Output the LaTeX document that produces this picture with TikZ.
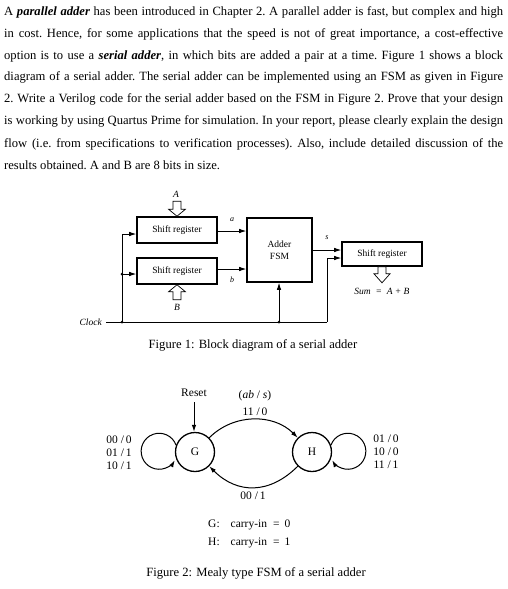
\documentclass[tikz,border=0pt]{standalone}
\usepackage{fontspec}
\setmainfont{Liberation Serif}
\usetikzlibrary{arrows.meta,calc}
\begin{document}
\begin{tikzpicture}[x=1pt,y=1pt,
  conn/.style={line width=0.8pt},
  arr/.style={conn,-{Latex[length=7pt,width=4.5pt]}},
  reg/.style={draw,line width=1.6pt,minimum width=80pt,minimum height=26pt,inner sep=0pt,font=\fontsize{9.5}{12}\selectfont},
  lbl/.style={inner sep=0pt,font=\fontsize{9.5}{11}\selectfont\itshape},
  smalllbl/.style={inner sep=0pt,font=\fontsize{8}{10}\selectfont\itshape},
  fsmstate/.style={draw,circle,line width=1.3pt,minimum size=39pt,inner sep=0pt,font=\fontsize{11.5}{13}\selectfont},
  fl/.style={inner sep=0pt,font=\fontsize{11.5}{13}\selectfont},
  hollow/.style={draw,line width=0.7pt,fill=white},
  jdot/.style={circle,fill,inner sep=0pt,minimum size=3pt},
  figcap/.style={inner sep=0pt,font=\fontsize{12.6}{15}\selectfont}]
\useasboundingbox (0,0) rectangle (508,-589);
% body text
\node[anchor=base west,inner sep=0pt] (body) at (4,-15) {\parbox[t]{499pt}{\fontsize{12.6}{22}\selectfont\frenchspacing\hyphenpenalty=10000\tolerance=9999\emergencystretch=20pt
A \textbf{\textit{parallel adder}} has been introduced in Chapter 2. A parallel adder is fast, but complex and high\linebreak
in cost. Hence, for some applications that the speed is not of great importance, a cost-effective\linebreak
option is to use a \textbf{\textit{serial adder}}, in which bits are added a pair at a time. Figure 1 shows a block\linebreak
diagram of a serial adder. The serial adder can be implemented using an FSM as given in Figure\linebreak
2. Write a Verilog code for the serial adder based on the FSM in Figure 2. Prove that your design\linebreak
is working by using Quartus Prime for simulation. In your report, please clearly explain the design\linebreak
flow (i.e. from specifications to verification processes). Also, include detailed discussion of the\linebreak
results obtained. A and B are 8 bits in size.}};
% Figure 1
\node[reg] (sr1) at (177,-230) {Shift register};
\node[reg] (sr2) at (177,-271) {Shift register};
\node[reg,minimum width=65pt,minimum height=64pt,align=center] (fsm) at (279.5,-250) {Adder\\FSM};
\node[reg,minimum height=24pt] (sr3) at (382,-254) {Shift register};
\draw[hollow] (sr1.north) -- ++(-8.5,7) -- ++(4.5,0) -- ++(0,8) -- ++(8,0) -- ++(0,-8) -- ++(4.5,0) -- cycle;
\node[lbl] (A) at (176,-194) {A};
\draw[hollow] (sr2.south) -- ++(-8.5,-7) -- ++(4.5,0) -- ++(0,-8) -- ++(8,0) -- ++(0,8) -- ++(4.5,0) -- cycle;
\node[lbl] (B) at (177,-307) {B};
\draw[hollow] ([yshift=-16pt]sr3.south) -- ++(-8,9) -- ++(4,0) -- ++(0,7) -- ++(8,0) -- ++(0,-7) -- ++(4,0) -- cycle;
\node[lbl] (sum) at (382,-291) {Sum\enspace=\enspace A + B};
\node[lbl,anchor=east] (clk) at (102,-322) {Clock};
\coordinate (c0) at (106,-322);
\coordinate (j1) at (122,-322);
\coordinate (j2) at (122,-274);
\coordinate (j3) at (279,-322);
\coordinate (c1) at (327,-322);
\coordinate (sr1clk) at ([yshift=-4pt]sr1.west);
\coordinate (sr3clk) at ([yshift=-4pt]sr3.west);
\draw[conn] (c0) -- (c1);
\draw[arr] (c1) |- (sr3clk);
\draw[arr] (j1) |- (sr1clk);
\draw[arr] (j2) -- (j2 -| sr2.west);
\draw[arr] (j3) -- (j3 |- fsm.south);
\node[jdot] at (j1) {};
\node[jdot] at (j2) {};
\node[jdot] at (j3) {};
\draw[arr] ([yshift=-1pt]sr1.east) -- ([yshift=-1pt]sr1.east -| fsm.west);
\draw[arr] ([yshift=2pt]sr2.east) -- ([yshift=2pt]sr2.east -| fsm.west);
\draw[arr] (fsm.east) -- (fsm.east -| sr3.west);
\node[smalllbl] (la) at (232,-220) {a};
\node[smalllbl] (lb) at (232,-280) {b};
\node[smalllbl] (ls) at (327,-238) {s};
\node[figcap] (cap1) at (253,-345) {Figure 1: Block diagram of a serial adder};
% Figure 2
\node[fsmstate] (G) at (195,-452) {G};
\node[fsmstate] (H) at (312,-452) {H};
\node[fl] (reset) at (194,-393) {Reset};
\draw[arr,line width=1pt] ([yshift=-5pt]reset.south) -- (reset.south |- G.north);
\draw[arr,line width=1pt] (G) to[out=45,in=135] (H);
\draw[arr,line width=1pt] (H) to[out=-135,in=-45,looseness=1.15] (G);
\draw[arr,line width=1pt] (G.160) arc[start angle=20,end angle=330,radius=18];
\draw[arr,line width=1pt] (H.20) arc[start angle=160,end angle=-150,radius=18];
\node[fl,align=center] (gl) at (119,-453) {00 /\,0\\01 /\,1\\10 /\,1};
\node[fl,align=center] (hl) at (386,-452) {01 /\,0\\10 /\,0\\11 /\,1};
\node[fl] (ab) at (255,-396) {(\textit{ab} / \textit{s})};
\node[fl] (t1) at (255,-412) {11 /\,0};
\node[fl] (t2) at (253,-496) {00 /\,1};
\node[fl,anchor=west] (cg) at (208,-525) {G:\hspace{11pt}carry-in\hspace{6pt}=\hspace{5pt}0};
\node[fl,anchor=west] (ch) at (208,-543) {H:\hspace{11pt}carry-in\hspace{6pt}=\hspace{5pt}1};
\node[figcap] (cap2) at (256,-573) {Figure 2: Mealy type FSM of a serial adder};
\end{tikzpicture}
\end{document}
